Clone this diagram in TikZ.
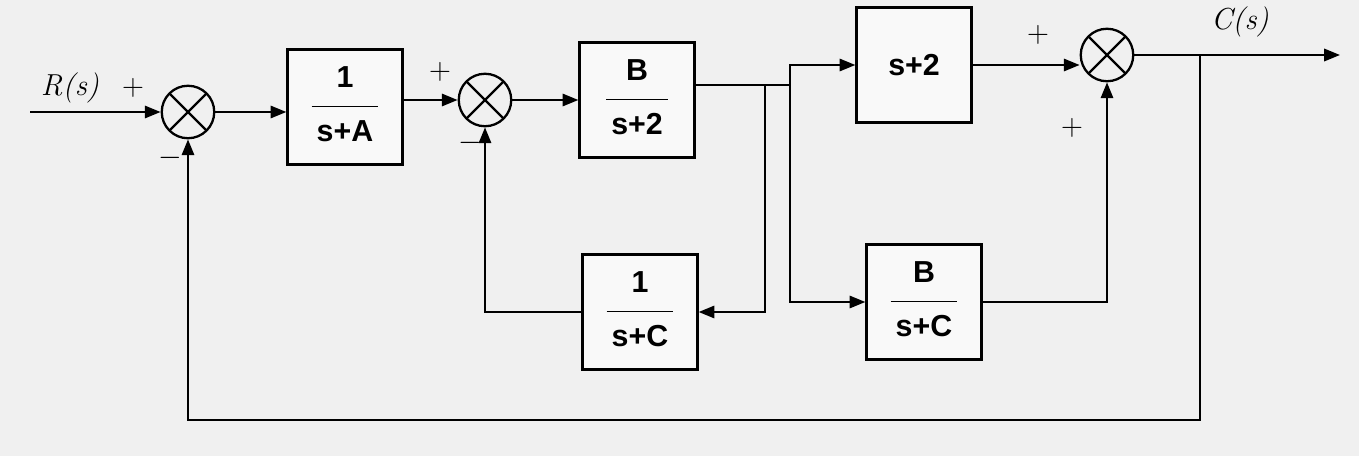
\documentclass[tikz,border=0pt]{standalone}
\usepackage{fontspec}
\setsansfont{Liberation Sans}
\usetikzlibrary{arrows.meta}
\newcommand{\myfr}[2]{\begin{tabular}{@{\,}c@{\,}}#1\\[4pt]\hline\rule{0pt}{20pt}#2\end{tabular}}
\begin{document}
\begin{tikzpicture}[x=0.02cm,y=-0.02cm,line width=1.3pt,
  blk/.style={draw,minimum width=2.3cm,minimum height=2.3cm,font=\sffamily\bfseries\LARGE,fill=white!95!gray},
  sumj/.style={draw,circle,minimum size=1.05cm,inner sep=0pt,
    path picture={\draw (path picture bounding box.north west)--(path picture bounding box.south east)
      (path picture bounding box.north east)--(path picture bounding box.south west);}},
  arr/.style={-{Triangle[length=9pt,width=7pt]}},
  sgn/.style={font=\LARGE}]
\fill[gray!12] (0,0) rectangle (1359,456);
\useasboundingbox (0,0) rectangle (1359,456);
\node[sumj] (s1) at (188,112) {};
\node[sumj] (s2) at (485,100) {};
\node[sumj] (s3) at (1107,55) {};
\node[blk] (b1) at (345,107) {\myfr{1}{s+A}};
\node[blk] (b2) at (637,100) {\myfr{B}{s+2}};
\node[blk] (b3) at (914,65) {s+2};
\node[blk] (b4) at (640,312) {\myfr{1}{s+C}};
\node[blk] (b5) at (924,302) {\myfr{B}{s+C}};
\coordinate (in) at (30,112);
\coordinate (out) at (1340,55);
\coordinate (p1) at (765,85);
\coordinate (p2) at (790,85);
\coordinate (p3) at (1200,55);
\node[font=\LARGE\itshape] (R) at (70,88) {R(s)};
\node[font=\LARGE\itshape] (C) at (1240,22) {C(s)};
\node[sgn] (m1) at (133,88) {+};
\node[sgn] (m2) at (170,158) {$-$};
\node[sgn] (m3) at (440,72) {+};
\node[sgn] (m4) at (470,143) {$-$};
\node[sgn] (m5) at (1038,35) {+};
\node[sgn] (m6) at (1072,128) {+};
\draw[arr] (in) -- (s1);
\draw[arr] (s1) -- (b1.west |- s1);
\draw[arr] (b1.east |- s2) -- (s2);
\draw[arr] (s2) -- (b2);
\draw (b2.east |- p2) -- (p2);
\draw[arr] (p2) |- (b3.west);
\draw[arr] (p1) |- (b4.east);
\draw[arr] (p2) |- (b5.west);
\draw[arr] (b3.east) -- (s3.west |- b3.east);
\draw[arr] (b4.west) -| (s2.south);
\draw[arr] (b5.east) -| (s3.south);
\draw[arr] (s3) -- (out);
\draw[arr] (p3) -- (1200,420) -| (s1.south);
\end{tikzpicture}
\end{document}
